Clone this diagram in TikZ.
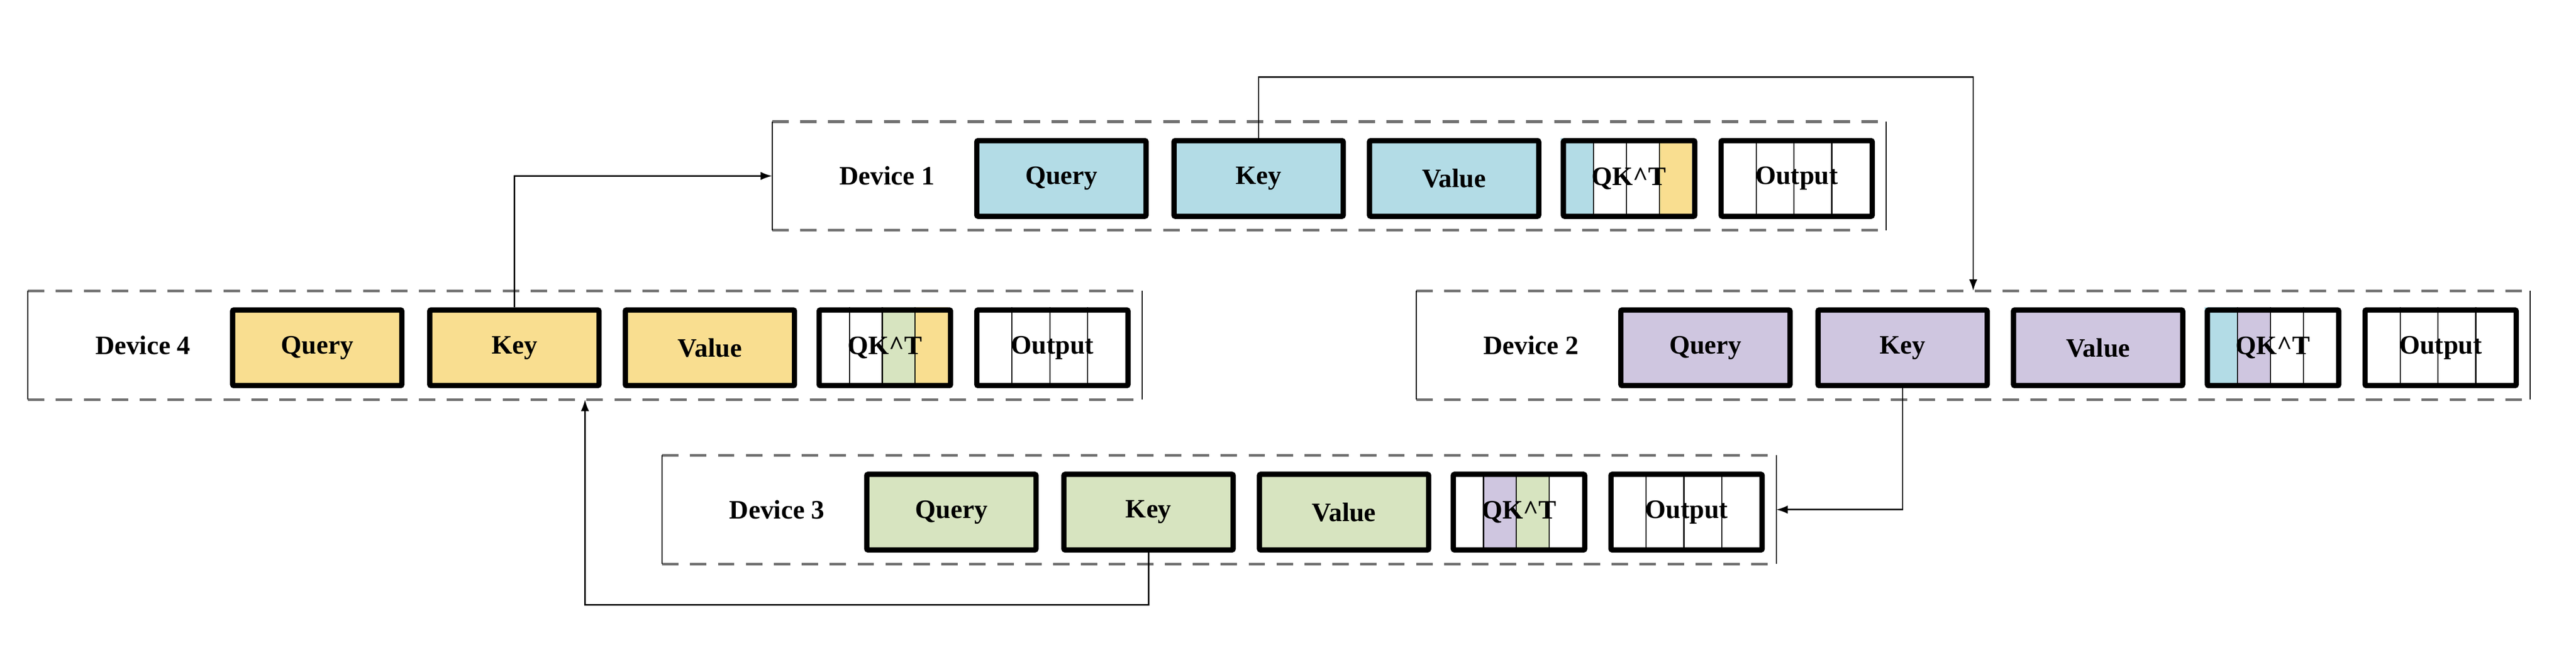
\documentclass[tikz,border=0pt]{standalone}
\usepackage{fontspec}
\setmainfont{Liberation Serif}
\usetikzlibrary{arrows.meta}
\definecolor{cb}{HTML}{B3DCE6}
\definecolor{cy}{HTML}{F9DE90}
\definecolor{cp}{HTML}{CFC6E0}
\definecolor{cg}{HTML}{D7E4C0}
\definecolor{dg}{HTML}{707070}
\tikzset{
  x=1mm,y=-1mm,
  txt/.style={font=\bfseries\fontsize{46}{54}\selectfont},
  box/.style={txt,draw,line width=3.2mm,rounded corners=0.8mm,minimum height=46mm,inner sep=0,anchor=north west},
  frame/.style={minimum width=678mm,minimum height=66mm,anchor=north west,inner sep=0},
  dashline/.style={dg,line width=1.6mm,dash pattern=on 10mm off 7mm},
  cell/.style={line width=0.7mm},
  arr/.style={line width=0.9mm,-{Latex[length=7mm,width=5mm]}}
}
\newcommand\dev[8]{%
  \node[frame] (#1f) at (#2,#3) {};
  \draw[dashline] (#1f.north west) -- (#1f.north east);
  \draw[dashline] (#1f.south west) -- (#1f.south east);
  \draw[line width=0.6mm] (#1f.north west) -- (#1f.south west);
  \draw[line width=0.6mm] (#1f.north east) -- (#1f.south east);
  \node[txt] (#1l) at ({#2+70},{#3+33}) {Device #5};
  \node[box,fill=#4,minimum width=103mm] (#1q) at ({#2+123},{#3+10}) {Query};
  \node[box,fill=#4,minimum width=103mm] (#1k) at ({#2+243},{#3+10}) {Key};
  \node[box,fill=#4,minimum width=103mm] (#1v) at ({#2+362},{#3+10}) {Value};
  \fill[#7] ({#2+480+20*(#6-1)},{#3+10}) rectangle ++(20,46);
  \fill[#4] ({#2+480+20*(#5-1)},{#3+10}) rectangle ++(20,46);
  \foreach \i in {1,2,3}{\draw[cell] ({#2+480+20*\i},{#3+10}) -- ++(0,46);}
  \foreach \i in {1,2,3}{\draw[cell] ({#2+576+23*\i},{#3+10}) -- ++(0,46);}
  \node[box,minimum width=80mm] (#1s) at ({#2+480},{#3+10}) {QK\textasciicircum T};
  \node[box,minimum width=92mm] (#1o) at ({#2+576},{#3+10}) {Output};
}
\begin{document}
\begin{tikzpicture}
\useasboundingbox (0,0) rectangle (1568,396.4);
\dev{d1}{470}{74}{cb}{1}{4}{cy}{}
\dev{d4}{17}{177}{cy}{4}{3}{cg}{}
\dev{d2}{862}{177}{cp}{2}{1}{cb}{}
\dev{d3}{403}{277}{cg}{3}{2}{cp}{}
\coordinate (t1) at (0,47);
\coordinate (t2) at (0,368);
\draw[arr] (d4k.north) |- (d1f.west);
\draw[arr] (d1k.north) -- (d1k.north |- t1) -| (d2f.north);
\draw[arr] (d2k.south) |- (d3f.east);
\draw[arr] (d3k.south) -- (d3k.south |- t2) -| (d4f.south);
\end{tikzpicture}
\end{document}
